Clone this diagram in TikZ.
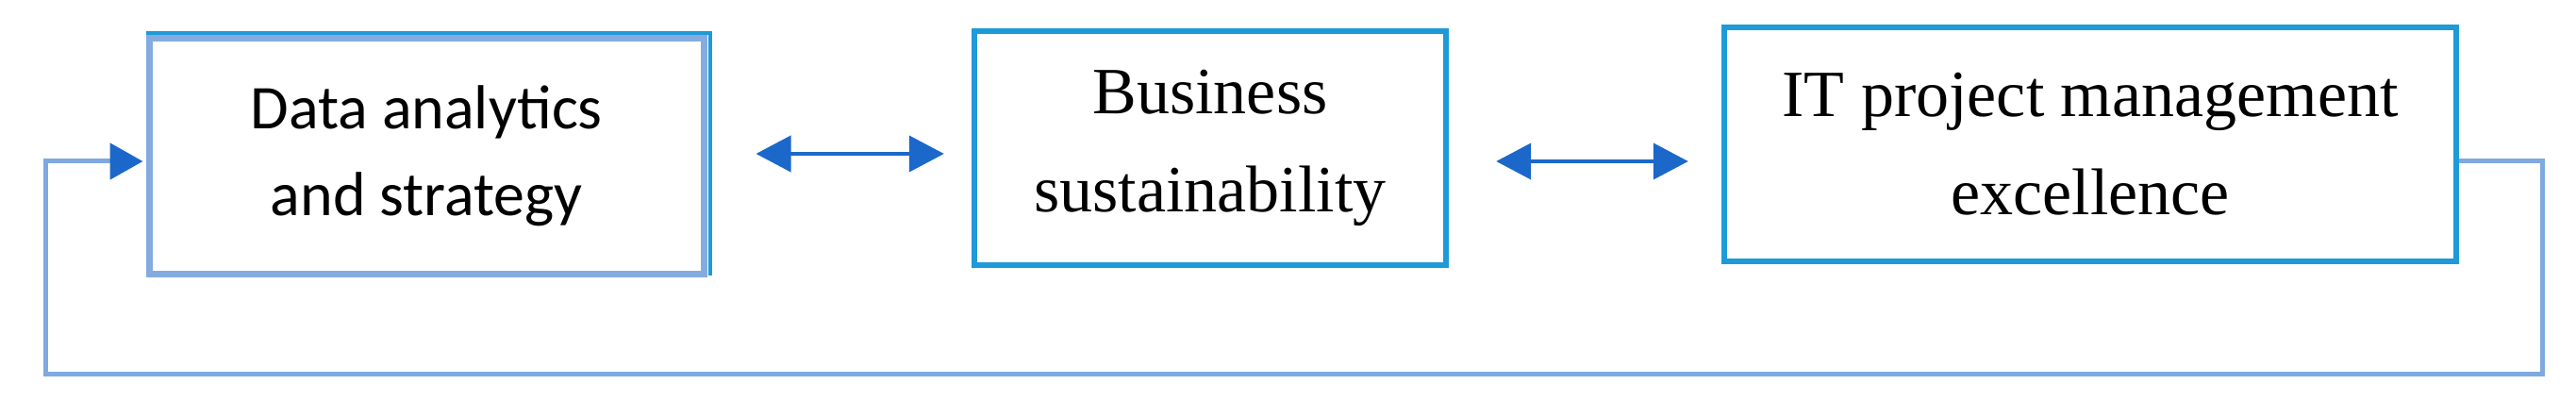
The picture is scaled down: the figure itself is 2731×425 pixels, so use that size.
\documentclass[tikz,border=0pt]{standalone}
\usepackage{fontspec}
\usetikzlibrary{arrows.meta,calc}
\newfontfamily\boxsans{Carlito}
\newfontfamily\boxserif{Liberation Serif}
\definecolor{arrowblue}{HTML}{1B68CA}
\definecolor{cyanborder}{HTML}{1E9AD9}
\definecolor{paleborder}{HTML}{84ABDF}
\definecolor{loopblue}{HTML}{7FA9E0}
\tikzset{
  boxA/.style={draw=paleborder, line width=1.75pt, rectangle, inner sep=0pt,
    align=center, font=\boxsans\fontsize{16.5pt}{23pt}\selectfont},
  boxB/.style={draw=cyanborder, line width=1.6pt, rectangle, inner sep=0pt,
    align=center, font=\boxserif\fontsize{17.5pt}{26pt}\selectfont},
  dbl/.style={draw=arrowblue, line width=1pt,
    {Triangle[length=9.25pt,width=9.5pt]}-{Triangle[length=9.25pt,width=9.5pt]}},
  loopline/.style={draw=loopblue, line width=1.25pt, line join=miter,
    -{Triangle[length=8.75pt,width=9.5pt,color=arrowblue]}},
  overlay1/.style={draw=cyanborder, line width=1pt}
}
\begin{document}
\begin{tikzpicture}[x=0.25pt,y=-0.25pt]
\fill[white] (0,0) rectangle (2731,425);
\useasboundingbox (0,0) rectangle (2731,425);

\node[boxA, minimum width=147.125pt, minimum height=62.5pt] (box1) at (452.25,165.5)
  {Data analytics\\and strategy};
\node[boxB, minimum width=125pt, minimum height=62pt] (box2) at (1283,157)
  {Business\\sustainability};
\node[boxB, minimum width=194pt, minimum height=62pt] (box3) at (2216,153)
  {IT project management\\excellence};

% darker outline along top and right of first box
\draw[overlay1] ($(box1.north west)+(0,-2)$) -- ($(box1.north east)+(2.5,-2)$)
  -- ($(box1.south east)+(2.5,-2)$);

\draw[dbl] ($(box1.east)+(51.5,-2.5)$) -- ($(box2.west)+(-29,6)$);
\draw[dbl] ($(box2.east)+(50,14)$) -- ($(box3.west)+(-35,18)$);

\coordinate (r1) at (2695,171);
\coordinate (r2) at (2695,396.5);
\coordinate (l2) at (48,396.5);
\coordinate (l1) at (48,171);
\draw[loopline] (box3.east |- r1) -- (r1) -- (r2) -- (l2) -- (l1)
  -- ($(l1 -| box1.west)+(-3,0)$);
\end{tikzpicture}
\end{document}
